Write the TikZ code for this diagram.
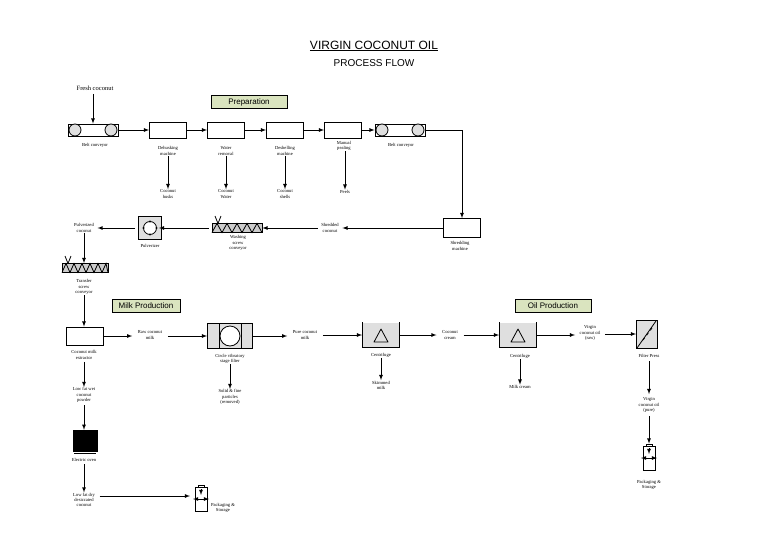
\documentclass[tikz,border=0pt]{standalone}
\usepackage{fontspec}
\setmainfont{Liberation Serif}
\newfontfamily\sanss{Liberation Sans}
\begin{document}
\begin{tikzpicture}[x=1pt,y=-1pt,
  lbl/.style={font=\fontsize{4.6}{5.2}\selectfont,align=center,inner sep=0.5pt},
  box/.style={draw,thick,minimum width=37pt,minimum height=16pt,inner sep=0pt},
  gbox/.style={draw,thick,fill=green!15!olive!25,font=\sanss\fontsize{8}{9}\selectfont,inner sep=1.5pt,minimum height=13pt},
  ar/.style={->,>=latex,thick}]
\useasboundingbox (0,0) rectangle (768,543);
% title
\node[font=\sanss\fontsize{12}{13}\selectfont] (t1) at (374,46) {\underline{VIRGIN COCONUT OIL}};
\node[font=\sanss\fontsize{10}{11}\selectfont] (t2) at (374,63) {PROCESS FLOW};
% section labels
\node[gbox,minimum width=76pt] (prep) at (249,102) {Preparation};
\node[gbox,minimum width=68pt] (milk) at (146,306) {Milk Production};
\node[gbox,minimum width=76pt] (oil) at (553,306) {Oil Production};
% row 1
\node[font=\fontsize{6.5}{7}\selectfont] (fresh) at (95,88) {Fresh coconut};
\node[draw,thick,minimum width=50pt,minimum height=12pt,inner sep=0pt] (bc1) at (93,130) {};
\draw[thick,fill=gray!25] (75,130) circle (6) (111,130) circle (6);
\node[lbl] (bc1l) at (95,145) {Belt conveyor};
\node[box] (deh) at (168,130) {};
\node[box] (wat) at (226,130) {};
\node[box] (des) at (285,130) {};
\node[box] (man) at (343,130) {};
\node[draw,thick,minimum width=50pt,minimum height=12pt,inner sep=0pt] (bc2) at (400,130) {};
\draw[thick,fill=gray!25] (382,130) circle (6) (418,130) circle (6);
\node[lbl] (bc2l) at (401,145) {Belt conveyor};
\node[lbl] (dehl) at (168,151) {Dehusking\\machine};
\node[lbl] (watl) at (226,151) {Water\\removal};
\node[lbl] (desl) at (285,151) {Deshelling\\machine};
\node[lbl] (manl) at (344,146) {Manual\\pealing};
\node[lbl] (o1) at (168,194) {Coconut\\husks};
\node[lbl] (o2) at (226,194) {Coconut\\Water};
\node[lbl] (o3) at (285,194) {Coconut\\shells};
\node[lbl] (o4) at (345,192) {Peels};
\draw[ar] (fresh.south-|bc1) -- (bc1.north);
\draw[ar] (bc1.east) -- (deh.west);
\draw[ar] (deh.east) -- (wat.west);
\draw[ar] (wat.east) -- (des.west);
\draw[ar] (des.east) -- (man.west);
\draw[ar] (man.east) -- (bc2.west);
\draw[ar] (dehl.south) -- (o1.north);
\draw[ar] (watl.south) -- (o2.north);
\draw[ar] (desl.south) -- (o3.north);
\draw[ar] (manl.south-|o4) -- (o4.north);
% shredding
\node[box,minimum height=19pt] (shr) at (462,228) {};
\node[lbl] (shrl) at (460,246) {Shredding\\machine};
\draw[ar] (bc2.east) -- (462,130) -- (shr.north);
\node[lbl] (shc) at (330,228) {Shredded\\coconut};
\draw[ar] (shr.west) -- ([xshift=3pt]shc.east);
% washing screw
\node[draw,thick,fill=gray!40,minimum width=50pt,minimum height=9pt,inner sep=0pt] (wsc) at (237,228) {};
\draw[thick] (212,232.5) -- (217,223.5) -- (222,232.5) -- (227,223.5) -- (232,232.5) -- (237,223.5) -- (242,232.5) -- (247,223.5) -- (252,232.5) -- (257,223.5) -- (262,232.5);
\draw[thick] (218,223.5) -- (215,216) (218,223.5) -- (221,216);
\node[lbl] (wscl) at (238,243) {Washing\\screw\\conveyor};
\draw[ar] ([xshift=-3pt]shc.west) -- (wsc.east);
\node[draw,thick,fill=gray!25,minimum size=23pt,inner sep=0pt] (pul) at (150,228) {};
\draw[thick,fill=white] (pul.center) circle (6.5);
\foreach \a in {0,90,180,270} \fill (pul.center) ++(\a:6.5) circle (1.1);
\node[lbl] (pull) at (150,246) {Pulverizer};
\draw[ar] ([xshift=-3pt]wsc.west) -- ([xshift=-3pt]pul.east);
\node[lbl] (pc) at (84,228) {Pulverized\\coconut};
\draw[ar] ([xshift=-3pt]pul.west) -- ([xshift=3pt]pc.east);
% transfer screw
\node[draw,thick,fill=gray!40,minimum width=46pt,minimum height=9pt,inner sep=0pt] (tsc) at (85,268) {};
\draw[thick] (62,272.5) -- (66,263.5) -- (70,272.5) -- (74,263.5) -- (78,272.5) -- (82,263.5) -- (86,272.5) -- (90,263.5) -- (94,272.5) -- (98,263.5) -- (102,272.5) -- (106,263.5) -- (108,272.5);
\draw[thick] (68,263.5) -- (65,256) (68,263.5) -- (71,256);
\node[lbl] (tscl) at (84,287) {Transfer\\screw\\conveyor};
\draw[ar] (pc.south) -- (tsc.north-|pc);
% milk row
\node[box,minimum height=18pt] (ext) at (85,336) {};
\node[lbl] (extl) at (84,355) {Coconut milk\\extractor};
\draw[ar] (tscl.south) -- (ext.north-|tscl);
\node[lbl] (raw) at (150,335) {Raw coconut\\milk};
\draw[ar] (ext.east) -- ([xshift=-5pt]raw.west|-ext);
\node[draw,thick,fill=gray!25,minimum width=45pt,minimum height=25pt,inner sep=0pt] (cvf) at (230,336) {};
\draw[thick] (219,323.5) -- (219,348.5) (241,323.5) -- (241,348.5);
\draw[thick,fill=white] (cvf.center) circle (10);
\node[lbl] (cvfl) at (230,359) {Circle vibratory\\stage filter};
\draw[ar] ([xshift=5pt]raw.east|-cvf) -- (cvf.west);
\node[lbl] (sol) at (230,397) {Solid \& fine\\particles\\(removed)};
\draw[ar] (cvfl.south) -- (sol.north);
\node[lbl] (pure) at (305,335) {Pure coconut\\milk};
\draw[ar] (cvf.east) -- ([xshift=-5pt]pure.west|-cvf);
\node[draw,thick,fill=gray!25,minimum width=37pt,minimum height=25pt,inner sep=0pt] (cen1) at (381,335) {};
\draw[thick,line join=round] (374,342) -- (381,329) -- (388,342) -- cycle;
\fill[white] (363,321) rectangle (399,323);
\node[lbl] (cen1l) at (381,355) {Centrifuge};
\draw[ar] ([xshift=5pt]pure.east|-cen1) -- (cen1.west);
\node[lbl] (skm) at (381,385) {Skimmed\\milk};
\draw[ar] (cen1l.south) -- (skm.north);
\node[lbl] (crm) at (450,335) {Coconut\\cream};
\draw[ar] (cen1.east) -- ([xshift=-5pt]crm.west|-cen1);
\node[draw,thick,fill=gray!25,minimum width=37pt,minimum height=25pt,inner sep=0pt] (cen2) at (518,335) {};
\draw[thick,line join=round] (511,342) -- (518,329) -- (525,342) -- cycle;
\fill[white] (500,321) rectangle (536,323);
\node[lbl] (cen2l) at (520,356) {Centrifuge};
\draw[ar] ([xshift=5pt]crm.east|-cen2) -- (cen2.west);
\node[lbl] (mcr) at (520,387) {Milk cream};
\draw[ar] (cen2l.south) -- (mcr.north);
\node[lbl] (vraw) at (590,333) {Virgin\\coconut oil\\(raw)};
\draw[ar] (cen2.east) -- ([xshift=-4pt]vraw.west|-cen2);
\node[draw,thick,fill=gray!25,minimum width=21pt,minimum height=28pt,inner sep=0pt] (fp) at (647,334) {};
\draw[thick,dashed] (643,340) -- (652,328);
\draw[thick] (637,348) -- (656,321);
\node[lbl] (fpl) at (649,356) {Filter Press};
\draw[ar] ([xshift=4pt]vraw.east|-fp) -- (fp.west);
\node[lbl] (vpure) at (649,405) {Virgin\\coconut oil\\(pure)};
\draw[ar] ([yshift=-3pt]fpl.south) -- ([yshift=3pt]vpure.north);
% packaging icons
\foreach \n/\px/\py in {pk1/649/457,pk2/201/498}{
  \node[draw,thick,minimum width=12pt,minimum height=12pt,inner sep=0pt] (\n) at (\px,\py-5) {};
  \draw[thick] (\px-6,\py+1) rectangle (\px+6,\py+13);
  \draw[thick] (\px-3,\py-11) rectangle (\px+3,\py-13);
  \draw[->,>=latex,thick] (\px,\py-9) -- (\px,\py-3);
  \draw[<->,>=latex,thick] (\px-8,\py+1) -- (\px+8,\py+1);
}
\node[lbl] (pk1l) at (649,485) {Packaging \&\\Storage};
\draw[ar] ([yshift=-3pt]vpure.south) -- ([yshift=2pt]pk1.north);
% left column
\node[lbl] (lfw) at (84,395) {Low fat wet\\coconut\\powder};
\draw[ar] ([yshift=-2pt]extl.south) -- (lfw.north);
\node[fill=black,minimum width=25pt,minimum height=22pt,inner sep=0pt] (ov) at (85,441) {};
\draw[thick] (74,453) -- (96,453);
\node[lbl] (ovl) at (84,460) {Electric oven};
\draw[ar] ([yshift=-2pt]lfw.south) -- (ov.north-|lfw);
\node[lbl] (lfd) at (84,500) {Low fat dry\\desiccated\\coconut};
\draw[ar] ([yshift=-2pt]ovl.south) -- (lfd.north);
\coordinate (pk2in) at (190,496);
\draw[ar] ([xshift=4pt]lfd.east|-pk2in) -- (pk2in);
\node[lbl] (pk2l) at (223,508) {Packaging \&\\Storage};
\end{tikzpicture}
\end{document}
